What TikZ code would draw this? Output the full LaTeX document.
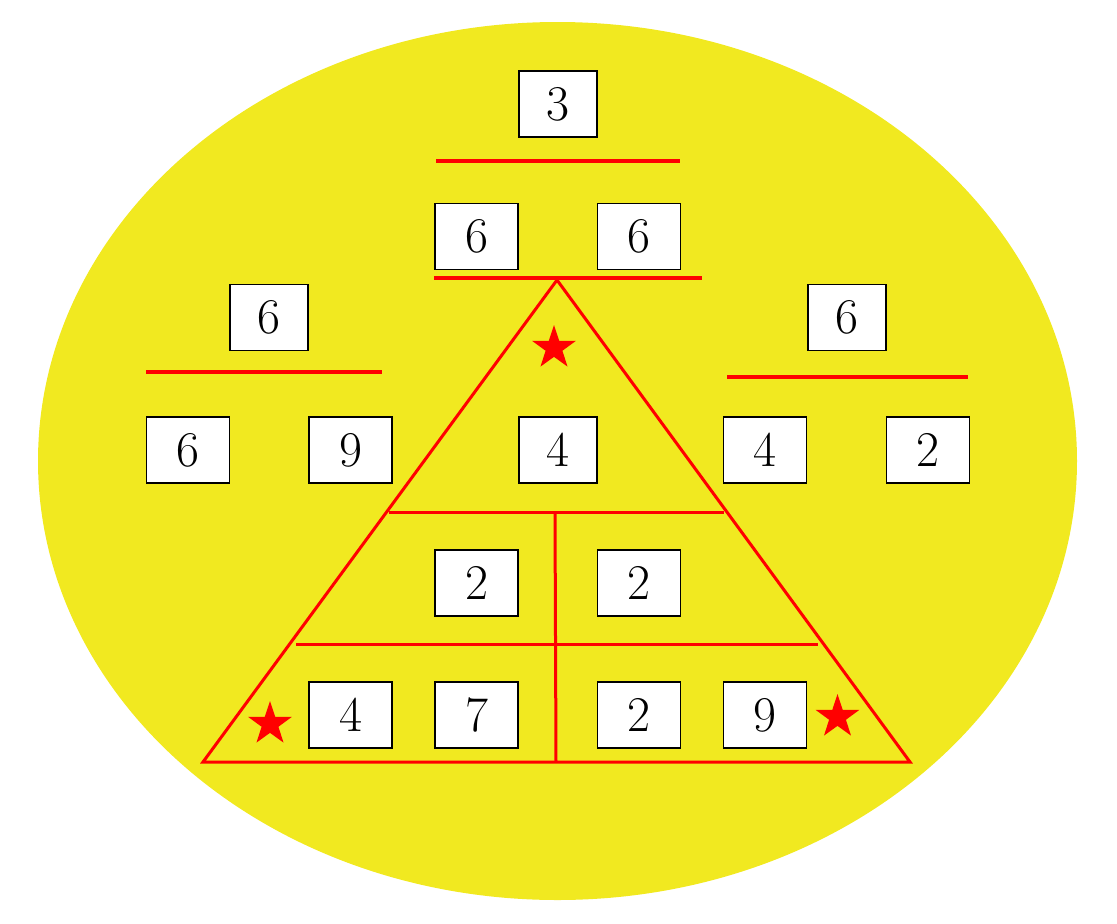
\documentclass[tikz,border=0pt]{standalone}
\usetikzlibrary{shapes.geometric}
\definecolor{bgyellow}{RGB}{241,233,32}
\definecolor{redline}{RGB}{255,0,0}
\tikzset{
  numbox/.style={draw=black, line width=1.5pt, fill=white, minimum height=66pt, inner sep=0pt, font=\fontsize{50}{60}\selectfont},
  wbox/.style={numbox, minimum width=83pt},
  nbox/.style={numbox, minimum width=78pt},
  rl/.style={draw=redline, line width=3.5pt},
  tl/.style={draw=redline, line width=3pt, line join=miter},
  redstar/.style={star, star points=5, star point ratio=2.6, fill=redline, draw=none, minimum size=46pt, inner sep=0pt}
}
\begin{document}
\begin{tikzpicture}[x=1pt,y=-1pt]
\useasboundingbox (0,0) rectangle (1117,924);
\fill[bgyellow] (557.5,461) ellipse [x radius=519.5, y radius=439];
% top fraction
\node[nbox] (n3) at (558,104) {3};
\coordinate (l1a) at (436,161); \coordinate (l1b) at (680,161);
\draw[rl] (l1a) -- (l1b);
\node[wbox] (n6a) at (476.5,236.5) {6};
\node[wbox] (n6b) at (639,236.5) {6};
\coordinate (l2a) at (434,278); \coordinate (l2b) at (702,278);
\draw[rl] (l2a) -- (l2b);
% left fraction
\node[nbox] (l6) at (269,317.5) {6};
\coordinate (l3a) at (146,372); \coordinate (l3b) at (382,372);
\draw[rl] (l3a) -- (l3b);
\node[wbox] (l6b) at (188,450) {6};
\node[wbox] (l9) at (350.5,450) {9};
% right fraction
\node[nbox] (r6) at (847,317.5) {6};
\coordinate (l4a) at (727,377); \coordinate (l4b) at (968,377);
\draw[rl] (l4a) -- (l4b);
\node[wbox] (r4) at (765,450) {4};
\node[wbox] (r2) at (928,450) {2};
% triangle
\coordinate (A) at (557,280);
\coordinate (B) at (203,762);
\coordinate (C) at (910,762);
\draw[tl] (A) -- (B) -- (C) -- cycle;
\coordinate (h1a) at (389,512); \coordinate (h1b) at (724,512);
\draw[tl] (h1a) -- (h1b);
\coordinate (h2a) at (296,644); \coordinate (h2b) at (818,644);
\draw[tl] (h2a) -- (h2b);
\coordinate (v1) at (555,512); \coordinate (v2) at (556,762);
\draw[tl] (v1) -- (v2);
\node[nbox] (c4) at (558,450) {4};
\node[wbox] (m2a) at (476.5,583) {2};
\node[wbox] (m2b) at (639,583) {2};
\node[wbox] (b4) at (350.5,715) {4};
\node[wbox] (b7) at (476.5,715) {7};
\node[wbox] (b2) at (639,715) {2};
\node[wbox] (b9) at (765,715) {9};
% stars
\node[redstar] (s1) at (554,348) {};
\node[redstar] (s2) at (270,724) {};
\node[redstar] (s3) at (837.5,717) {};
\end{tikzpicture}
\end{document}
